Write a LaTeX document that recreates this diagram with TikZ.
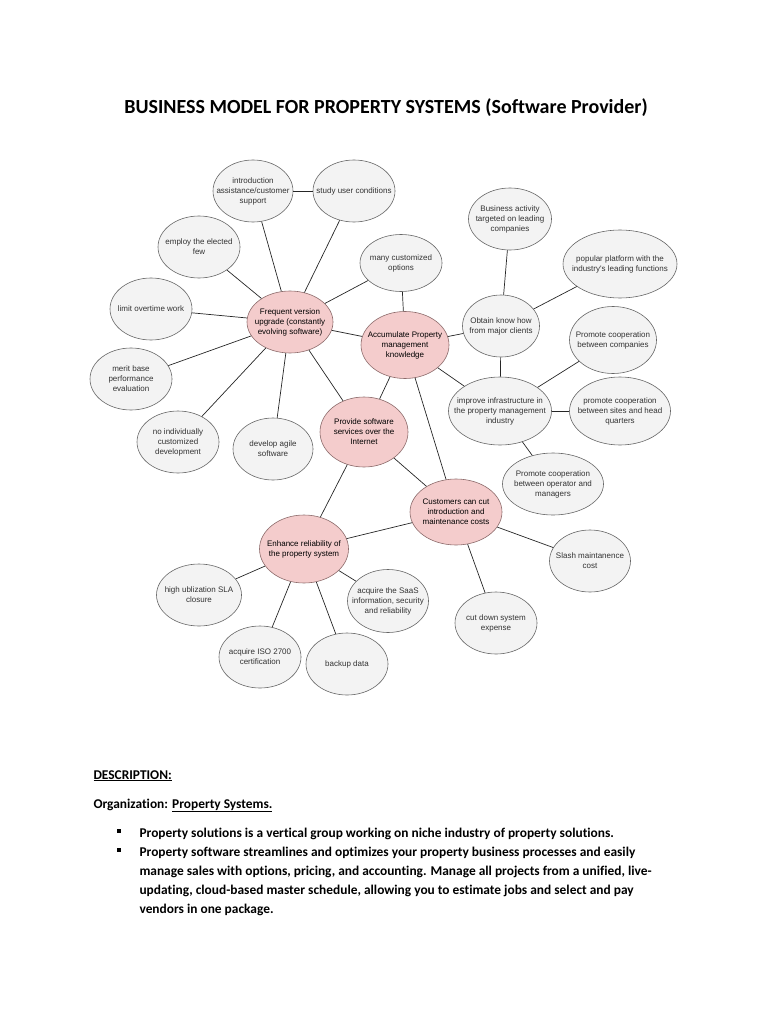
\documentclass[tikz,border=0pt]{standalone}
\usepackage{fontspec}
\setmainfont[Ligatures=NoCommon]{Carlito}
\newfontfamily\nodefont{Liberation Sans}
\usepackage{xcolor}
\usetikzlibrary{shapes.geometric}
\definecolor{corefill}{HTML}{F4CCCC}
\definecolor{coreline}{HTML}{8C6B6B}
\definecolor{leaffill}{HTML}{F3F3F3}
\definecolor{leafline}{HTML}{666666}

\begin{document}
\begin{tikzpicture}[x=1pt,y=-1pt,
        leaf/.style={ellipse, draw=leafline, fill=leaffill, line width=0.6pt, inner sep=-12pt,
            minimum width=82pt, minimum height=62pt, align=center,
            font=\nodefont\fontsize{8}{10}\selectfont, text=black!80},
        core/.style={leaf, draw=coreline, fill=corefill, text=black, minimum width=88pt, minimum height=67pt},
        link/.style={draw=black!85, line width=0.7pt},
        line/.style={anchor=base west, font=\bfseries\fontsize{13.4}{17}\selectfont}]
                \useasboundingbox (0,0) rectangle (768,1024);
                \node[font=\bfseries\fontsize{20}{24}\selectfont] (title) at (386,108) {BUSINESS MODEL FOR PROPERTY SYSTEMS (Software Provider)};
                % core ideas
                \node[core, minimum width=86pt, minimum height=62pt] (freq) at (290,322) {Frequent version\\upgrade (constantly\\evolving software)};
                \node[core] (accum) at (405,345) {Accumulate Property\\management\\knowledge};
                \node[core, minimum height=70pt] (prov) at (364,432) {Provide software\\services over the\\Internet};
                \node[core, minimum width=92pt, minimum height=66pt] (cust) at (456,512) {Customers can cut\\introduction and\\maintenance costs};
                \node[core, minimum width=89pt, minimum height=68pt] (enh) at (304,549) {Enhance reliability of\\the property system};
                % around the version upgrade
                \node[leaf, minimum width=80pt] (intro) at (253,191) {introduction\\assistance/customer\\support};
                \node[leaf] (study) at (354,191) {study user conditions};
                \node[leaf] (employ) at (199,247) {employ the elected\\few};
                \node[leaf] (limit) at (151,309) {limit overtime work};
                \node[leaf] (merit) at (131,379) {merit base\\performance\\evaluation};
                \node[leaf] (noind) at (178,442) {no individually\\customized\\development};
                \node[leaf, minimum width=80pt] (agile) at (273,449) {develop agile\\software};
                \node[leaf, minimum height=57pt] (many) at (401,263) {many customized\\options};
                % around the know how
                \node[leaf, minimum width=83pt] (busi) at (510,219) {Business activity\\targeted on leading\\companies};
                \node[leaf, minimum width=114pt, minimum height=68pt] (popu) at (620,264) {popular platform with the\\industry's leading functions};
                \node[leaf, minimum width=77pt] (obtain) at (501,326) {Obtain know how\\from major clients};
                \node[leaf, minimum width=103pt, minimum height=68pt] (infra) at (500,411) {improve infrastructure in\\the property management\\industry};
                \node[leaf, minimum width=87pt, minimum height=67pt] (comp) at (613,340) {Promote cooperation\\between companies};
                \node[leaf, minimum width=101pt, minimum height=68pt] (sites) at (620,411) {promote cooperation\\between sites and head\\quarters};
                \node[leaf, minimum width=101pt] (oper) at (553,484) {Promote cooperation\\between operator and\\managers};
                % around the costs and reliability
                \node[leaf, minimum width=81pt] (slash) at (590,561) {Slash maintanence\\cost};
                \node[leaf] (cutdown) at (496,623) {cut down system\\expense};
                \node[leaf, minimum width=85pt] (sla) at (199,595) {high ublization SLA\\closure};
                \node[leaf, minimum width=81pt, minimum height=63pt] (saas) at (388,601) {acquire the SaaS\\information, security\\and reliability};
                \node[leaf] (iso) at (260,657) {acquire ISO 2700\\certification};
                \node[leaf] (backup) at (347,664) {backup data};
                % links
                \draw[link] (intro) -- (study);
                \foreach \n in {intro,study,employ,limit,merit,noind,agile,many,accum,prov}
                    \draw[link] (freq) -- (\n);
                \foreach \n in {many,obtain,infra,prov,cust}
                    \draw[link] (accum) -- (\n);
                \foreach \n in {busi,popu,infra}
                    \draw[link] (obtain) -- (\n);
                \foreach \n in {comp,sites,oper}
                    \draw[link] (infra) -- (\n);
                \foreach \n in {cust,enh}
                    \draw[link] (prov) -- (\n);
                \foreach \n in {enh,slash,cutdown}
                    \draw[link] (cust) -- (\n);
                \foreach \n in {sla,iso,backup,saas}
                    \draw[link] (enh) -- (\n);
                % description
                \node[line] (desc) at (90,779) {\underline{DESCRIPTION:}};
                \node[line] (org) at (90,808) {Organization: \underline{Property Systems.}};
                \node[line] (b1) at (136,837) {Property solutions is a vertical group working on niche industry of property solutions.};
                \node[line] (b2) at (136,856) {Property software streamlines and optimizes your property business processes and easily};
                \node[line] (b2a) at (136,875) {manage sales with options, pricing, and accounting. Manage all projects from a unified, live-};
                \node[line] (b2b) at (136,894) {updating, cloud-based master schedule, allowing you to estimate jobs and select and pay};
                \node[line] (b2c) at (136,913) {vendors in one package.};
                \fill (b1.base west) ++(-19,-8) rectangle ++(4,4);
                \fill (b2.base west) ++(-19,-8) rectangle ++(4,4);
            \end{tikzpicture}
\end{document}
